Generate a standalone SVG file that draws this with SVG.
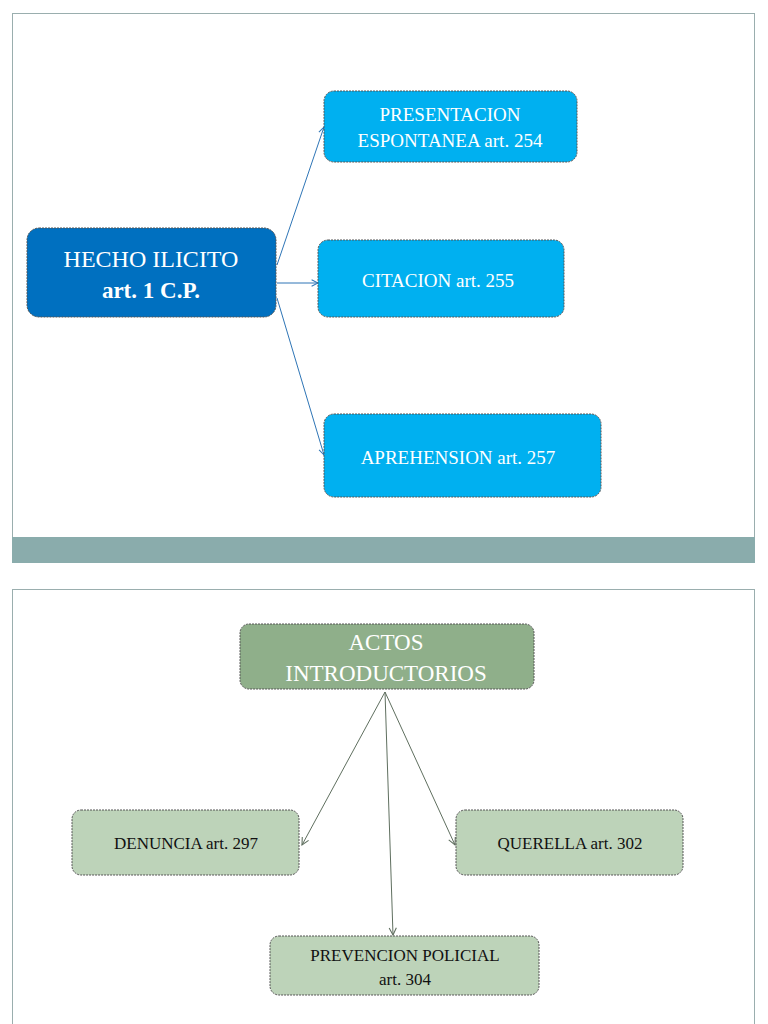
<svg xmlns="http://www.w3.org/2000/svg" width="768" height="1024" viewBox="0 0 768 1024">
<defs>
<marker id="ab" viewBox="0 0 10 10" refX="9" refY="5" markerWidth="8" markerHeight="8" orient="auto" markerUnits="userSpaceOnUse"><path d="M1,1 L9,5 L1,9" fill="none" stroke="#2e75b6" stroke-width="1.3"/></marker>
<marker id="ag" viewBox="0 0 10 10" refX="9" refY="5" markerWidth="9" markerHeight="9" orient="auto" markerUnits="userSpaceOnUse"><path d="M1,1 L9,5 L1,9" fill="none" stroke="#5f6f5f" stroke-width="1.2"/></marker>
</defs>
<style>
.frame{fill:#fff;stroke:#9aaeae;stroke-width:1}
.n{stroke:#555;stroke-width:1;stroke-dasharray:2 1}
.lb{fill:#00b0f0}
.db{fill:#0070c0}
.g1{fill:#8faf8a}
.g2{fill:#bdd3b9}
text{font-family:"Liberation Serif","Times New Roman",serif;text-anchor:middle}
.w{fill:#fff}
.k{fill:#111}
</style>
<rect width="768" height="1024" fill="#fff"/>
<rect class="frame" x="12.5" y="13.5" width="742" height="524"/>
<rect x="12" y="537" width="743" height="26" fill="#8aacac"/>
<rect class="frame" x="12.5" y="589.5" width="742" height="440"/>
<g id="connectors" fill="none">
<path d="M277,265 L324,127" stroke="#2e75b6" marker-end="url(#ab)"/>
<path d="M277,283 L318,283" stroke="#2e75b6" marker-end="url(#ab)"/>
<path d="M277,298 L324,455" stroke="#2e75b6" marker-end="url(#ab)"/>
<path d="M385,692 L302,845" stroke="#5f6f5f" marker-end="url(#ag)"/>
<path d="M385,692 L393,935" stroke="#5f6f5f" marker-end="url(#ag)"/>
<path d="M385,692 L455,845" stroke="#5f6f5f" marker-end="url(#ag)"/>
</g>
<g id="hecho"><rect class="n db" x="27" y="228" width="249" height="89" rx="12"/>
<text class="w" x="151" y="267" font-size="24">HECHO ILICITO</text>
<text class="w" x="151" y="298" font-size="23" font-weight="bold">art. 1 C.P.</text></g>
<g id="presentacion"><rect class="n lb" x="324" y="91" width="253" height="71" rx="10"/>
<text class="w" x="450" y="121" font-size="19">PRESENTACION</text>
<text class="w" x="450" y="147" font-size="19">ESPONTANEA  art. 254</text></g>
<g id="citacion"><rect class="n lb" x="318" y="240" width="246" height="77" rx="10"/>
<text class="w" x="438" y="287" font-size="19">CITACION art. 255</text></g>
<g id="aprehension"><rect class="n lb" x="324" y="414" width="277" height="83" rx="10"/>
<text class="w" x="458" y="464" font-size="19">APREHENSION art. 257</text></g>
<g id="actos"><rect class="n g1" x="240" y="624" width="294" height="65" rx="9"/>
<text class="w" x="386" y="650" font-size="23">ACTOS</text>
<text class="w" x="386" y="681" font-size="23">INTRODUCTORIOS</text></g>
<g id="denuncia"><rect class="n g2" x="72" y="810" width="227" height="65" rx="9"/>
<text class="k" x="186" y="849" font-size="17">DENUNCIA art. 297</text></g>
<g id="querella"><rect class="n g2" x="456" y="810" width="227" height="65" rx="9"/>
<text class="k" x="570" y="849" font-size="17">QUERELLA art. 302</text></g>
<g id="prevencion"><rect class="n g2" x="270" y="936" width="269" height="59" rx="9"/>
<text class="k" x="405" y="961" font-size="17">PREVENCION POLICIAL</text>
<text class="k" x="405" y="985" font-size="17">art. 304</text></g>
</svg>
